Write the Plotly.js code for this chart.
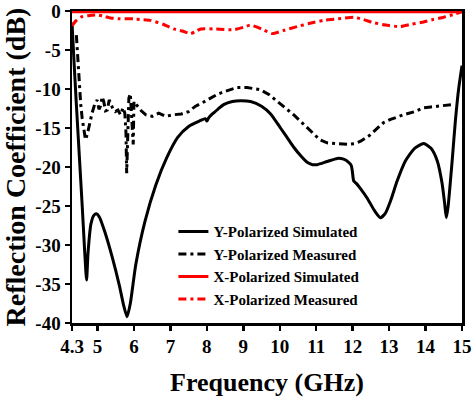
<!DOCTYPE html>
<html>
<head>
<meta charset="utf-8">
<script src="https://cdn.plot.ly/plotly-3.0.1.min.js"></script>
<style>html,body{margin:0;padding:0;background:#fff;}#chart{width:474px;height:397px;}</style>
</head>
<body>
<div id="chart"></div>
<script>
// Y-Polarized Simulated
const ySimX = [4.3, 4.35, 4.42, 4.5, 4.58, 4.65, 4.70, 4.74, 4.82, 4.9, 4.97, 5.05, 5.2, 5.4, 5.6, 5.72, 5.81, 5.9, 6.05, 6.3, 6.6, 6.9, 7.2, 7.5, 7.8, 7.96, 8.0, 8.05, 8.15, 8.3, 8.46, 8.7, 8.92, 9.2, 9.5, 9.75, 10.02, 10.2, 10.39, 10.6, 10.75, 10.9, 11.03, 11.3, 11.58, 11.75, 11.89, 11.96, 11.99, 12.03, 12.1, 12.22, 12.4, 12.6, 12.76, 12.9, 13.05, 13.22, 13.45, 13.7, 13.95, 14.15, 14.32, 14.45, 14.52, 14.57, 14.62, 14.73, 14.82, 14.91, 15.0];
const ySimY = [-1.5, -6, -12, -18.5, -25, -31, -34.5, -31, -27.3, -26.2, -26.0, -26.4, -28.3, -31.5, -35.2, -37.8, -39.2, -37.5, -32.5, -27, -22.3, -18.8, -16.2, -14.8, -14.1, -13.8, -14.1, -13.7, -13.2, -12.6, -12.0, -11.6, -11.5, -11.6, -12.2, -13.2, -15.0, -16.2, -17.5, -18.7, -19.4, -19.7, -19.7, -19.3, -18.9, -19.0, -19.4, -19.8, -20.5, -21.8, -22.1, -22.8, -24.0, -25.6, -26.5, -25.9, -24.2, -21.8, -19.2, -17.6, -17.0, -17.6, -19.2, -22.0, -24.5, -26.5, -25.0, -19.2, -14.0, -9.9, -7.0];

// Y-Polarized Measured
const yMeasX = [4.42, 4.46, 4.5, 4.54, 4.58, 4.62, 4.67, 4.72, 4.78, 4.85, 4.92, 4.99, 5.04, 5.08, 5.13, 5.17, 5.22, 5.27, 5.32, 5.36, 5.42, 5.49, 5.56, 5.63, 5.7, 5.75, 5.78, 5.8, 5.83, 5.86, 5.9, 5.95, 5.98, 6.0, 6.09, 6.2, 6.32, 6.5, 6.68, 6.87, 7.09, 7.3, 7.5, 7.69, 7.9, 8.1, 8.28, 8.5, 8.83, 9.1, 9.47, 9.7, 9.93, 10.15, 10.38, 10.65, 10.93, 11.1, 11.3, 11.6, 11.85, 12.05, 12.22, 12.45, 12.67, 12.85, 13.04, 13.2, 13.4, 13.7, 13.95, 14.15, 14.32, 14.5, 14.73];
const yMeasY = [-3.1, -6.5, -9.5, -12.0, -13.8, -15.0, -16.5, -15.8, -14.5, -13.1, -12.0, -11.4, -12.6, -12.2, -11.0, -11.6, -12.8, -12.7, -11.4, -11.8, -12.5, -12.9, -12.7, -13.3, -12.4, -13.1, -15.5, -20.8, -14.5, -11.2, -10.6, -15.4, -17.1, -11.6, -12.2, -12.8, -13.3, -13.5, -13.1, -13.5, -13.3, -13.2, -12.9, -12.2, -11.7, -11.2, -10.7, -10.3, -9.8, -9.8, -10.1, -10.7, -11.6, -12.4, -13.3, -14.5, -15.8, -16.5, -16.9, -17.0, -17.1, -17.0, -16.7, -16.0, -15.0, -14.3, -13.9, -13.6, -13.3, -12.9, -12.4, -12.3, -12.2, -12.1, -12.0];

// X-Polarized Simulated
const xSimX = [4.3, 6, 8, 10, 12, 14, 15];
const xSimY = [-0.1, -0.1, -0.1, -0.1, -0.1, -0.1, -0.1];

// X-Polarized Measured
const xMeasX = [4.3, 4.4, 4.53, 4.75, 4.99, 5.2, 5.36, 5.6, 5.99, 6.2, 6.45, 6.8, 7.09, 7.35, 7.55, 7.7, 7.83, 8.2, 8.74, 9.0, 9.2, 9.5, 9.79, 10.1, 10.48, 10.8, 11.21, 11.6, 12.03, 12.3, 12.58, 12.9, 13.31, 13.6, 13.95, 14.2, 14.5, 14.8, 15.0];
const xMeasY = [-1.9, -1.3, -0.8, -0.6, -0.5, -0.7, -0.9, -1.0, -1.0, -1.1, -1.2, -1.7, -2.3, -2.6, -2.9, -2.6, -2.3, -2.3, -2.4, -2.1, -1.8, -2.3, -2.9, -2.5, -2.0, -1.6, -1.2, -1.0, -0.8, -1.1, -1.5, -1.8, -2.0, -1.7, -1.4, -1.1, -0.8, -0.4, -0.1];

const seriesNames = ["Y-Polarized Simulated", "Y-Polarized Measured", "X-Polarized Simulated", "X-Polarized Measured"];

const xTickVals = [4.3, 5, 6, 7, 8, 9, 10, 11, 12, 13, 14, 15];
const xTickText = ["4.3", "5", "6", "7", "8", "9", "10", "11", "12", "13", "14", "15"];
const yTickVals = [0, -5, -10, -15, -20, -25, -30, -35, -40];
const yTickText = ["0", "-5", "-10", "-15", "-20", "-25", "-30", "-35", "-40"];

const FONT = "Liberation Serif, Times New Roman, serif";

const traces = [
  {x: ySimX, y: ySimY, name: seriesNames[0], mode: "lines", line: {color: "#000", width: 3, shape: "spline", smoothing: 0.6}},
  {x: yMeasX, y: yMeasY, name: seriesNames[1], mode: "lines", line: {color: "#000", width: 3, dash: "8px,4px,3px,4px"}},
  {x: xSimX, y: xSimY, name: seriesNames[2], mode: "lines", line: {color: "#ff0000", width: 3}},
  {x: xMeasX, y: xMeasY, name: seriesNames[3], mode: "lines", line: {color: "#ff0000", width: 3, dash: "8px,4px,3px,4px", shape: "spline", smoothing: 0.5}}
];

const layout = {
  width: 474, height: 397,
  margin: {l: 72, r: 12, t: 11, b: 74},
  paper_bgcolor: "#fff", plot_bgcolor: "#fff",
  font: {family: FONT, color: "#000", size: 16},
  showlegend: true,
  legend: {
    x: 0.26, y: 0.345, xanchor: "left", yanchor: "top",
    bgcolor: "rgba(0,0,0,0)", borderwidth: 0,
    font: {family: FONT, size: 15, color: "#000", weight: "bold"},
    itemwidth: 30, tracegroupgap: 0
  },
  xaxis: {
    range: [4.3, 15], tickmode: "array", tickvals: xTickVals, ticktext: xTickText,
    showgrid: false, zeroline: false, showline: true, linewidth: 2.5, linecolor: "#000", mirror: true,
    ticks: "outside", ticklen: 5, tickwidth: 2.5, tickcolor: "#000",
    tickfont: {family: FONT, size: 19, weight: "bold"}, ticklabeloverflow: "allow",
    title: {text: "Frequency (GHz)", font: {family: FONT, size: 26, weight: "bold"}, standoff: 19}
  },
  yaxis: {
    range: [-40, 0], tickmode: "array", tickvals: yTickVals, ticktext: yTickText,
    showgrid: false, zeroline: false, showline: true, linewidth: 2.5, linecolor: "#000", mirror: true,
    ticks: "outside", ticklen: 5, tickwidth: 2.5, tickcolor: "#000",
    tickfont: {family: FONT, size: 19, weight: "bold"}, ticklabeloverflow: "allow",
    title: {text: "Reflection Coefficient (dB)", font: {family: FONT, size: 28, weight: "bold"}, standoff: 5}
  }
};

Plotly.newPlot("chart", traces, layout, {displayModeBar: false, staticPlot: true});
</script>
</body>
</html>
